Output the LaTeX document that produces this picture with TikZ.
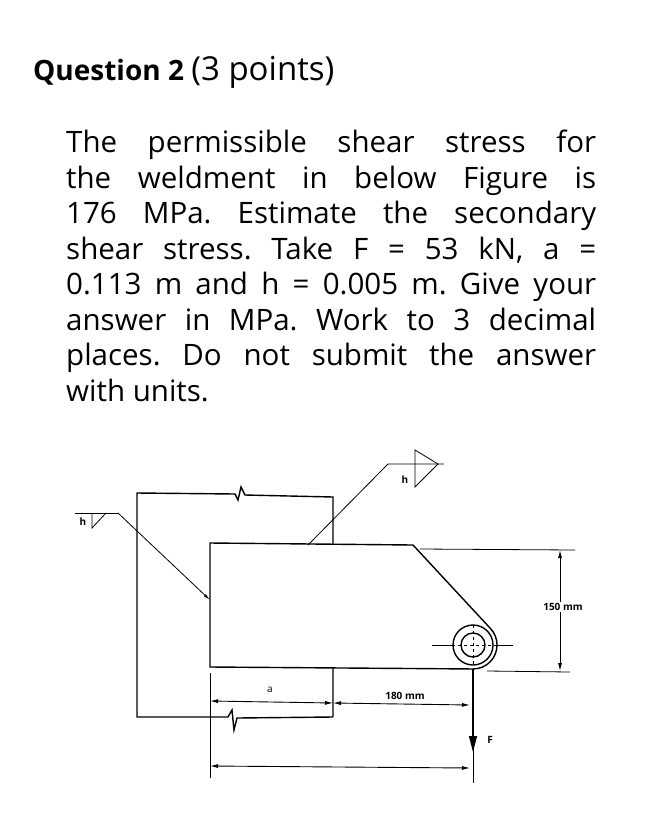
\documentclass[tikz,border=0pt]{standalone}
\usepackage{fontspec}
\setmainfont{Open Sans}
\usetikzlibrary{arrows.meta}
\newcommand\jline[1]{\hbox to 530pt{\spaceskip=0.18em plus 1fil\relax #1}}
\begin{document}
\begin{tikzpicture}[x=1pt,y=-1pt,
  ln/.style={line width=1.4pt},
  thn/.style={line width=0.8pt},
  dim/.style={line width=0.9pt,{Latex[length=8pt,width=4pt]}-{Latex[length=8pt,width=4pt]}},
  lbl/.style={font=\fontsize{10}{12}\selectfont\bfseries,inner sep=1pt}]
\useasboundingbox (0,0) rectangle (647,820);
\node[anchor=base west,inner sep=0] (title) at (33,80) {\fontsize{28}{32}\selectfont\textbf{Question 2} \fontsize{33}{36}\selectfont(3 points)};
\node[anchor=north west,inner sep=0] (body) at (66,130)
 {\fontsize{29.5}{35.5}\selectfont\frenchspacing\vbox{\baselineskip=35.5pt
 \jline{The permissible shear stress for}
 \jline{the weldment in below Figure is}
 \jline{176 MPa. Estimate the secondary}
 \jline{shear stress. Take F = 53 kN, a =}
 \jline{0.113 m and h = 0.005 m. Give your}
 \jline{answer in MPa. Work to 3 decimal}
 \jline{places. Do not submit the answer}
 \hbox{with units.}}};
% column plate with break marks
\draw[ln] (333,717) -- (333,497) -- (245,495) -- (241,487) -- (238,500) -- (235,494) -- (137,493) -- (137,717) -- (228,717) -- (232,710) -- (234,730) -- (237,718) -- (333,717);
% bracket
\coordinate (pc) at (473,645);
\draw[ln,fill=white] (210,543) -- (413,545) -- (490,628) arc[start angle=-45,end angle=90,radius=24] -- (210,667) -- cycle;
\draw[ln] (pc) circle[radius=20];
\draw[ln] (pc) circle[radius=12];
\draw[thn,dashed] (452,645) -- (494,645) (473,625) -- (473,665);
\draw[thn] (432,645) -- (452,645) (494,645) -- (513,645);
% leader lines
\draw[thn,-{Latex[length=7pt,width=3pt]}] (118,513) -- (210,600);
\draw[thn] (75,513) -- (118,513);
\draw[thn] (92,513) -- (92,528) -- (106,513);
\node[lbl] (h1) at (83,522) {h};
\draw[thn] (308,545) -- (388,464) -- (444,464);
\draw[thn] (415,450) -- (438,464) -- (415,487) -- cycle;
\node[lbl] (h2) at (405,480) {h};
% dimension 150
\draw[thn] (420,549) -- (575,550) (487,671) -- (570,672);
\draw[dim] (560,550) -- (560,671);
\node[lbl,fill=white] (d150) at (563,607) {150 mm};
% extension lines
\draw[thn] (210,673) -- (210,778) (473,669) -- (473,783);
\draw[dim] (210,701) -- (333,703);
\node[font=\fontsize{10}{12}\selectfont,fill=white,inner sep=1pt] (da) at (270,690) {a};
\draw[dim] (333,703) -- (470,705);
\node[lbl] (d180) at (405,696) {180 mm};
\draw[dim] (210,766) -- (470,768);
% force
\draw[line width=1.4pt,-{Triangle[length=16pt,width=8pt]}] (473,669) -- (473,752);
\node[lbl] (F) at (490,740) {F};
\end{tikzpicture}
\end{document}
